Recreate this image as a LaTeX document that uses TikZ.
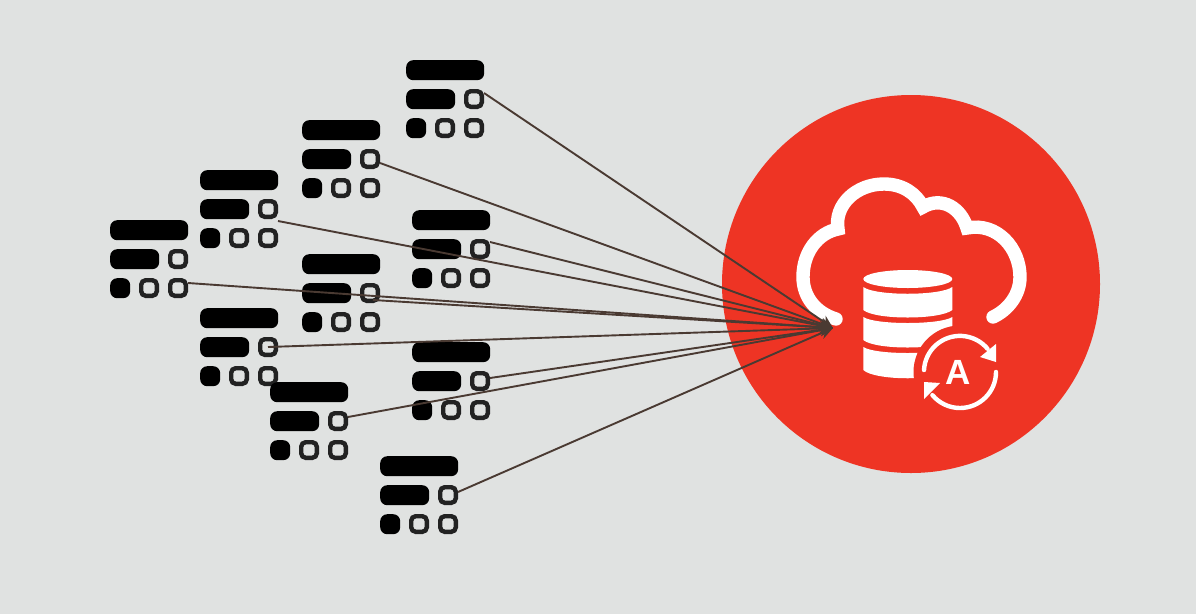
\documentclass[tikz,border=0pt]{standalone}
\usepackage{fontspec}
\setmainfont{Liberation Sans}
\usetikzlibrary{arrows.meta}
\definecolor{bgc}{HTML}{E0E2E1}
\definecolor{redc}{HTML}{EE3424}
\definecolor{linkc}{HTML}{4A3A32}
\definecolor{sqc}{HTML}{222222}
\tikzset{
  bar/.style={fill=black,rounded corners=7pt,inner sep=0pt,minimum height=20pt,anchor=north west},
  opensq/.style={draw=sqc,line width=4.4pt,rounded corners=4.5pt,inner sep=0pt,minimum width=15.6pt,minimum height=15.6pt,anchor=center,fill=none},
  link/.style={draw=linkc,line width=1.9pt,-{Stealth[length=13pt,width=12pt]}},
  cloudline/.style={draw=white,line width=13.4pt,line cap=round,line join=miter},
  ringline/.style={draw=white,line width=4.4pt,line cap=round},
}
\newcommand{\dbicon}[3]{%
  \node[bar,minimum width=78pt] (#1top) at (#2,#3) {};
  \node[bar,minimum width=49pt] (#1mid) at (#2,#3+29) {};
  \node[opensq] (#1s) at (#2+68,#3+39) {};
  \node[bar,minimum width=20pt] (#1blk) at (#2,#3+58) {};
  \node[opensq] (#1p) at (#2+39,#3+68) {};
  \node[opensq] (#1q) at (#2+68,#3+68) {};
}
\begin{document}
\begin{tikzpicture}[x=1pt,y=-1pt]
\useasboundingbox (0,0) rectangle (1196,614);
\fill[bgc] (0,0) rectangle (1196,614);
\node[circle,fill=redc,minimum size=378pt,inner sep=0pt] (disc) at (911,284) {};
% cloud
\draw[cloudline] (836,319) .. controls (816,313) and (803,297) .. (803,277)
  .. controls (803,252) and (818,233) .. (838,229)
  .. controls (834,205) and (856,184) .. (884,184)
  .. controls (902,184) and (916,193) .. (923,207)
  .. controls (942,196) and (961,208) .. (967,228)
  .. controls (997,222) and (1020,248) .. (1020,277)
  .. controls (1020,295) and (1008,310) .. (993,317);
% database
\fill[white] (907.8,279) ellipse[x radius=44.5,y radius=9];
\fill[white] (863.3,287) .. controls (875,296) and (940,296) .. (952.3,287) -- (952.3,310)
  .. controls (940,320) and (875,320) .. (863.3,310) -- cycle;
\fill[white] (863.3,317) .. controls (875,325) and (940,325) .. (952.3,317) -- (952.3,340)
  .. controls (940,350) and (875,350) .. (863.3,340) -- cycle;
\fill[white] (863.3,347) .. controls (875,355) and (940,355) .. (952.3,347) -- (952.3,370)
  .. controls (940,381) and (875,381) .. (863.3,370) -- cycle;
\fill[redc] (960,372) circle[radius=46.5];
% auto icon
\draw[ringline] (924,370) arc[start angle=177,end angle=40,radius=36pt];
\fill[white] (996,344) -- (996,362) -- (980,357) -- cycle;
\draw[ringline] (996,372) arc[start angle=0,end angle=-140,radius=36pt];
\fill[white] (940,383) -- (924,382) -- (924,399) -- cycle;
\node[inner sep=0pt,text=white,font=\fontsize{35}{35}\selectfont\bfseries] (autoA) at (958,372) {A};
% icons' positions
\coordinate (hub) at (833,328);
\dbicon{a}{406}{60}
\dbicon{b}{302}{120}
\dbicon{c}{200}{170}
\dbicon{d}{110}{220}
\dbicon{e}{412}{210}
\dbicon{f}{302}{254}
\dbicon{g}{200}{308}
\dbicon{h}{412}{342}
\dbicon{i}{270}{382}
\dbicon{j}{380}{456}
% connectors
\draw[link] ([yshift=6pt]as.east) -- (hub);
\draw[link] ([yshift=-4pt]bs.east) -- (hub);
\draw[link] ([yshift=-12pt]cs.east) -- (hub);
\draw[link] ([yshift=5pt]dq.east) -- (hub);
\draw[link] ([yshift=7pt]es.east) -- (hub);
\draw[link] ([xshift=3pt,yshift=-7pt]fs.center) -- (hub);
\draw[link] (gs.center) -- (hub);
\draw[link] ([yshift=3pt]hs.east) -- (hub);
\draw[link] ([yshift=4pt]is.east) -- (hub);
\draw[link] ([yshift=3pt]js.east) -- (hub);
\end{tikzpicture}
\end{document}
